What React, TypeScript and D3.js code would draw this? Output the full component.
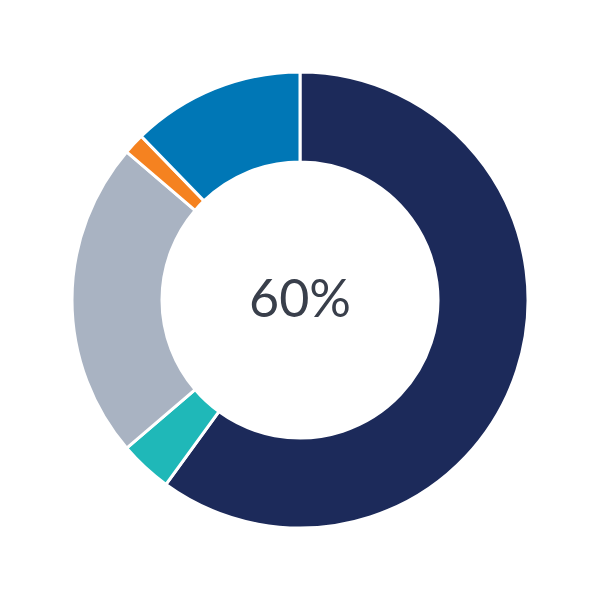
import React from 'react';
import * as d3 from 'd3';

// slice shares, clockwise from 12 o'clock
const labels = ['Navy', 'Teal', 'Gray', 'Orange', 'Blue'];
const values = [60, 3.75, 22.5, 1.5, 12.25];
const colors = ['#1c2a5a', '#1fb8b8', '#a9b3c2', '#f58220', '#0077b6'];
const centerLabel = '60%';

const App: React.FC = () => {
  const width = 600;
  const height = 600;
  const cx = 292;
  const cy = 292;
  const outer = 228;
  const inner = 138;

  const pie = d3.pie<number>().sort(null).value(d => d);
  const arc = d3.arc<d3.PieArcDatum<number>>().innerRadius(inner).outerRadius(outer);
  const arcs = pie(values);

  return (
    <svg width={width} height={height} style={{ display: 'block', margin: -8 }}>
      <rect width={width} height={height} fill="#ffffff" />
      <g transform={`translate(${cx + 8},${cy + 8})`}>
        {arcs.map((a, i) => (
          <path key={labels[i]} d={arc(a) || ''} fill={colors[i]} stroke="#ffffff" strokeWidth={3} />
        ))}
        <text
          x={0}
          y={-3}
          textAnchor="middle"
          dominantBaseline="central"
          fontFamily="Lato, sans-serif"
          fontWeight={400}
          fontSize={52}
          fill="#393f4b"
        >
          {centerLabel}
        </text>
      </g>
    </svg>
  );
};

export default App;
